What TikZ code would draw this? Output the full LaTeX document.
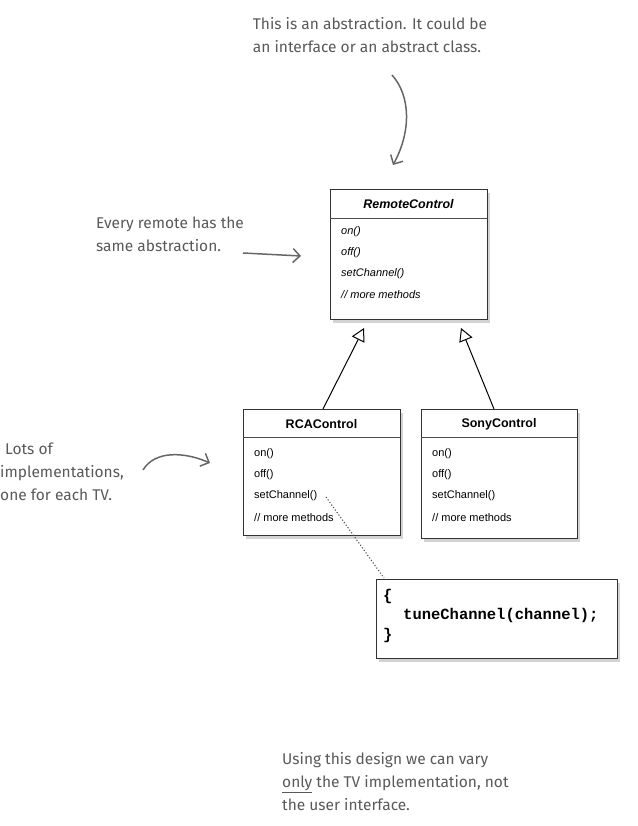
\documentclass[tikz,border=0pt]{standalone}
\usepackage{fontspec}
\setmainfont{Liberation Sans}
\newfontfamily\hand{Fira Sans}
\newfontfamily\codef{Liberation Mono}
\usetikzlibrary{shadows,arrows.meta}
\begin{document}
\begin{tikzpicture}[x=1pt,y=-1pt,
  box/.style={draw=black!80,fill=white,line width=0.7pt,drop shadow={shadow xshift=3pt,shadow yshift=-4pt,opacity=0.35}},
  meth/.style={anchor=west,font=\fontsize{11}{12}\selectfont,inner sep=0pt},
  title/.style={anchor=center,font=\bfseries\fontsize{12.5}{14}\selectfont},
  note/.style={font=\hand\fontsize{15.5}{23}\selectfont,text=black!65,align=left,inner sep=0pt},
  harrow/.style={draw=black!60,line width=1.5pt,-{Straight Barb[length=7pt,width=14pt]}},
  inh/.style={draw=black,line width=1pt,-{Triangle[open,length=13pt,width=14pt,fill=white]}},
  code/.style={anchor=west,inner sep=0pt,font=\codef\bfseries\fontsize{15.5}{17}\selectfont}]
\useasboundingbox (0,0) rectangle (637,826);
% RemoteControl
\node[box,minimum width=157pt,minimum height=130pt,anchor=north west,inner sep=0pt] (rc) at (330,189) {};
\draw[black!70] (330,218) -- (487,218);
\node[title] (rct) at (408.5,204) {\itshape RemoteControl};
\node[meth] (rc1) at (341,232) {\itshape on()};
\node[meth] (rc2) at (341,253) {\itshape off()};
\node[meth] (rc3) at (341,274) {\itshape setChannel()};
\node[meth] (rc4) at (341,295) {\itshape // more methods};
% RCA
\node[box,minimum width=157pt,minimum height=126pt,anchor=north west,inner sep=0pt] (rca) at (243,409) {};
\draw[black!70] (243,437) -- (400,437);
\node[title] (rcat) at (321.5,424) {RCAControl};
\node[meth] (a1) at (254,454) {on()};
\node[meth] (a2) at (254,475) {off()};
\node[meth] (a3) at (254,496) {setChannel()};
\node[meth] (a4) at (254,518) {// more methods};
% Sony
\node[box,minimum width=156pt,minimum height=129pt,anchor=north west,inner sep=0pt] (sony) at (421,409) {};
\draw[black!70] (421,437) -- (577,437);
\node[title] (sonyt) at (499,424) {SonyControl};
\node[meth] (s1) at (432,454) {on()};
\node[meth] (s2) at (432,475) {off()};
\node[meth] (s3) at (432,496) {setChannel()};
\node[meth] (s4) at (432,518) {// more methods};
% code
\node[box,minimum width=241pt,minimum height=79pt,anchor=north west,inner sep=0pt] (code) at (376,579) {};
\node[code] (c1) at (383,596) {\{};
\node[code] (c2) at (403,615) {tuneChannel(channel);};
\node[code] (c3) at (383,635) {\}};
% inheritance
\coordinate (rcl) at (364,328);
\coordinate (rcr) at (461,328);
\draw[inh] (323,409) -- (rcl);
\draw[inh] (494,409) -- (rcr);
\draw[black!70,line width=1.1pt,dotted] (326,497) -- (384,578);
% notes
\node[note] (n1) at (370,35) {This is an abstraction. It could be\\an interface or an abstract class.};
\coordinate (n1a) at (392,75);
\coordinate (n1b) at (393,165);
\draw[harrow] (n1a) .. controls (410,95) and (412,130) .. (n1b);
\node[note] (n2) at (170,234) {Every remote has the\\same abstraction.};
\coordinate (n2a) at (243,253);
\coordinate (n2b) at (301,256);
\draw[harrow] (n2a) -- (n2b);
\node[note,anchor=west] (n3) at (0,472) {\hspace{5pt}Lots of\\implementations,\\one for each TV.};
\coordinate (n3a) at (143,470);
\coordinate (n3b) at (210,463);
\draw[harrow] (n3a) .. controls (155,450) and (185,452) .. (n3b);
\node[note,anchor=north west] (n4) at (282,752) {Using this design we can vary\\\underline{only} the TV implementation, not\\the user interface.};
\end{tikzpicture}
\end{document}
